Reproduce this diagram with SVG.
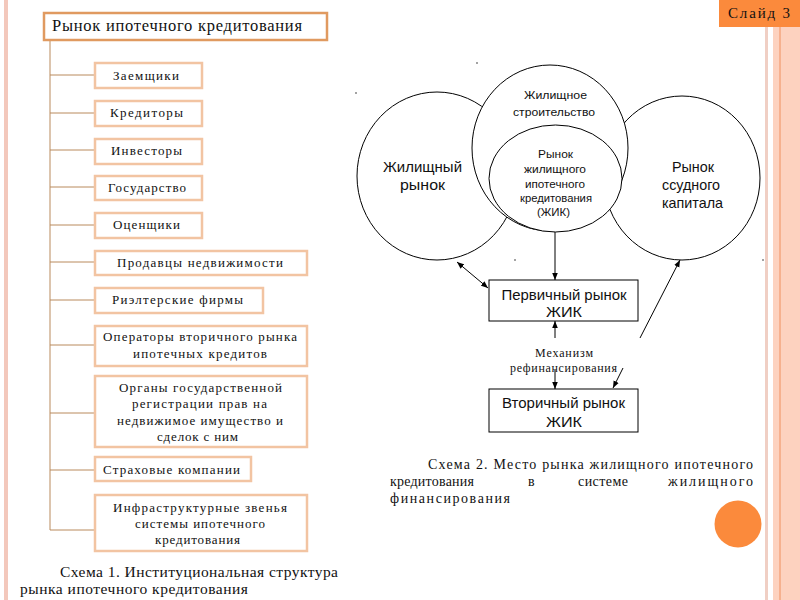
<svg xmlns="http://www.w3.org/2000/svg" width="800" height="600" viewBox="0 0 800 600">
<defs>
<marker id="ah" viewBox="0 0 10 10" refX="10" refY="5" markerWidth="7" markerHeight="7" orient="auto-start-reverse" markerUnits="userSpaceOnUse">
<path d="M0,1 L10,5 L0,9 Z" fill="#000"/>
</marker>
<style>
.box{fill:#fff;stroke:#f2c4a2;stroke-width:2.5}
.tbox{fill:#fff;stroke:#e09a60;stroke-width:2.5}
.br{stroke:#b98a5c;stroke-width:1;fill:none}
.ser{font-family:"Liberation Serif","DejaVu Serif",serif;fill:#111}
.san{font-family:"Liberation Sans",Arial,sans-serif;fill:#111}
.lt{font-size:13px;text-anchor:middle}
.ring{fill:#fff;stroke:#000;stroke-width:1}
.ln{stroke:#000;stroke-width:1;fill:none}
</style>
</defs>
<rect width="800" height="600" fill="#fff"/>
<rect x="4" y="0" width="4" height="600" fill="#f3c8bc"/>
<rect x="765" y="0" width="3" height="600" fill="#f0cfc4"/>
<rect x="773" y="0" width="27" height="600" fill="#fdd2bf"/>
<line x1="780" y1="0" x2="780" y2="600" stroke="#f0905e" stroke-width="1"/>
<g id="slide-label">
<rect x="719" y="0" width="81" height="27" fill="#fb8a3c"/>
<text x="759" y="18" class="ser" font-size="15" text-anchor="middle" textLength="62" lengthAdjust="spacing" fill="#222">Слайд 3</text>
</g>

<g id="connectors-left">
<line class="br" x1="50" y1="40" x2="50" y2="530"/>
<line class="br" x1="50" y1="75" x2="95" y2="75"/>
<line class="br" x1="50" y1="113" x2="95" y2="113"/>
<line class="br" x1="50" y1="150" x2="95" y2="150"/>
<line class="br" x1="50" y1="187" x2="95" y2="187"/>
<line class="br" x1="50" y1="225" x2="95" y2="225"/>
<line class="br" x1="50" y1="262" x2="95" y2="262"/>
<line class="br" x1="50" y1="300" x2="95" y2="300"/>
<line class="br" x1="50" y1="345" x2="95" y2="345"/>
<line class="br" x1="50" y1="413" x2="95" y2="413"/>
<line class="br" x1="50" y1="470" x2="95" y2="470"/>
<line class="br" x1="50" y1="530" x2="95" y2="530"/>
</g>
<g id="root">
<rect class="tbox" x="44" y="13" width="283" height="27"/>
<text class="ser" x="52" y="31" font-size="16.5" textLength="250" lengthAdjust="spacing">Рынок ипотечного кредитования</text>
</g>
<g id="n1"><rect class="box" x="95" y="63" width="107" height="25"/><text class="ser lt" x="146" y="80" textLength="66" lengthAdjust="spacing">Заемщики</text></g>
<g id="n2"><rect class="box" x="95" y="101" width="107" height="25"/><text class="ser lt" x="146.5" y="117" textLength="73" lengthAdjust="spacing">Кредиторы</text></g>
<g id="n3"><rect class="box" x="95" y="139" width="107" height="25"/><text class="ser lt" x="146.5" y="155" textLength="71" lengthAdjust="spacing">Инвесторы</text></g>
<g id="n4"><rect class="box" x="95" y="176" width="107" height="24"/><text class="ser lt" x="147" y="192" textLength="78" lengthAdjust="spacing">Государство</text></g>
<g id="n5"><rect class="box" x="95" y="213" width="107" height="25"/><text class="ser lt" x="146.5" y="229" textLength="67" lengthAdjust="spacing">Оценщики</text></g>
<g id="n6"><rect class="box" x="95" y="251" width="212" height="24"/><text class="ser lt" x="200" y="267" textLength="166" lengthAdjust="spacing">Продавцы недвижимости</text></g>
<g id="n7"><rect class="box" x="95" y="288" width="168" height="25"/><text class="ser lt" x="177.5" y="304" textLength="131" lengthAdjust="spacing">Риэлтерские фирмы</text></g>
<g id="n8"><rect class="box" x="95" y="326" width="212" height="40"/>
<text class="ser lt" x="200" y="341" textLength="194" lengthAdjust="spacing">Операторы вторичного рынка</text>
<text class="ser lt" x="200" y="358" textLength="134" lengthAdjust="spacing">ипотечных кредитов</text></g>
<g id="n9"><rect class="box" x="95" y="376" width="212" height="71"/>
<text class="ser lt" x="200.5" y="392" textLength="163" lengthAdjust="spacing">Органы государственной</text>
<text class="ser lt" x="199.5" y="408" textLength="135" lengthAdjust="spacing">регистрации прав на</text>
<text class="ser lt" x="200" y="425" textLength="166" lengthAdjust="spacing">недвижимое имущество и</text>
<text class="ser lt" x="197.5" y="441" textLength="81" lengthAdjust="spacing">сделок с ним</text></g>
<g id="n10"><rect class="box" x="95" y="457" width="156" height="24"/><text class="ser lt" x="171.5" y="474" textLength="137" lengthAdjust="spacing">Страховые компании</text></g>
<g id="n11"><rect class="box" x="95" y="495" width="212" height="56"/>
<text class="ser lt" x="200" y="512" textLength="174" lengthAdjust="spacing">Инфраструктурные звенья</text>
<text class="ser lt" x="200" y="528" textLength="130" lengthAdjust="spacing">системы ипотечного</text>
<text class="ser lt" x="197.5" y="544" textLength="85" lengthAdjust="spacing">кредитования</text></g>
<g id="caption1">
<text class="ser" x="60" y="577" font-size="15.5" textLength="278" lengthAdjust="spacing">Схема 1. Институциональная структура</text>
<text class="ser" x="20" y="594" font-size="15.5" textLength="228" lengthAdjust="spacing">рынка ипотечного кредитования</text>
</g>

<g id="housing-market"><ellipse class="ring" cx="437" cy="176" rx="80" ry="84"/>
<text class="san" x="422.5" y="172" font-size="14.5" text-anchor="middle" textLength="79" lengthAdjust="spacingAndGlyphs">Жилищный</text>
<text class="san" x="422.5" y="190" font-size="14.5" text-anchor="middle" textLength="45" lengthAdjust="spacingAndGlyphs">рынок</text></g>
<g id="loan-capital"><ellipse class="ring" cx="682" cy="178" rx="78" ry="82"/>
<text class="san" x="693" y="172" font-size="14.5" text-anchor="middle" textLength="42" lengthAdjust="spacingAndGlyphs">Рынок</text>
<text class="san" x="691" y="190" font-size="14.5" text-anchor="middle" textLength="58" lengthAdjust="spacingAndGlyphs">ссудного</text>
<text class="san" x="692.5" y="208" font-size="14.5" text-anchor="middle" textLength="61" lengthAdjust="spacingAndGlyphs">капитала</text></g>
<g id="construction"><ellipse class="ring" cx="550" cy="148" rx="78" ry="83"/>
<text class="san" x="555.5" y="99" font-size="11" text-anchor="middle" textLength="63" lengthAdjust="spacingAndGlyphs">Жилищное</text>
<text class="san" x="554" y="116" font-size="11" text-anchor="middle" textLength="82" lengthAdjust="spacingAndGlyphs">строительство</text></g>
<g id="zhik"><ellipse class="ring" cx="555.5" cy="178.5" rx="66.5" ry="53.5"/>
<text class="san" x="555.5" y="158" font-size="10.5" text-anchor="middle" textLength="35" lengthAdjust="spacingAndGlyphs">Рынок</text>
<text class="san" x="555" y="173" font-size="10.5" text-anchor="middle" textLength="62" lengthAdjust="spacingAndGlyphs">жилищного</text>
<text class="san" x="555" y="188" font-size="10.5" text-anchor="middle" textLength="60" lengthAdjust="spacingAndGlyphs">ипотечного</text>
<text class="san" x="556" y="202" font-size="10.5" text-anchor="middle" textLength="72" lengthAdjust="spacingAndGlyphs">кредитования</text>
<text class="san" x="553.5" y="216" font-size="10.5" text-anchor="middle" textLength="33" lengthAdjust="spacingAndGlyphs">(ЖИК)</text></g>
<g id="primary"><rect x="489" y="280" width="149" height="41" fill="#fff" stroke="#000" stroke-width="1"/>
<text class="san" x="564" y="300" font-size="14.5" text-anchor="middle" textLength="125" lengthAdjust="spacingAndGlyphs">Первичный рынок</text>
<text class="san" x="564" y="317" font-size="14.5" text-anchor="middle" textLength="36" lengthAdjust="spacingAndGlyphs">ЖИК</text></g>
<g id="secondary"><rect x="489" y="389" width="149" height="43" fill="#fff" stroke="#000" stroke-width="1"/>
<text class="san" x="563.5" y="408" font-size="14.5" text-anchor="middle" textLength="123" lengthAdjust="spacingAndGlyphs">Вторичный рынок</text>
<text class="san" x="564" y="427" font-size="14.5" text-anchor="middle" textLength="36" lengthAdjust="spacingAndGlyphs">ЖИК</text></g>
<g id="mechanism">
<text class="ser" x="564" y="357" font-size="12" text-anchor="middle" textLength="58" lengthAdjust="spacing">Механизм</text>
<text class="ser" x="563.5" y="372" font-size="12" text-anchor="middle" textLength="107" lengthAdjust="spacing">рефинансирования</text>
</g>
<g id="connectors-right">
<line class="ln" x1="555" y1="232" x2="555" y2="280" marker-end="url(#ah)"/>
<line class="ln" x1="457" y1="262" x2="488" y2="288" marker-start="url(#ah)" marker-end="url(#ah)"/>
<line class="ln" x1="555" y1="338" x2="555" y2="321" marker-end="url(#ah)"/>
<line class="ln" x1="555" y1="370" x2="555" y2="389" marker-end="url(#ah)"/>
<line class="ln" x1="623" y1="368" x2="613" y2="388" marker-end="url(#ah)"/>
<line class="ln" x1="640" y1="338" x2="680" y2="260" marker-end="url(#ah)"/>
</g>
<g id="caption2" class="ser" font-size="14">
<text x="428" y="469" textLength="325" lengthAdjust="spacing">Схема 2. Место рынка жилищного ипотечного</text>
<text x="390" y="486" textLength="84" lengthAdjust="spacing">кредитования</text>
<text x="528" y="486">в</text>
<text x="578" y="486" textLength="50" lengthAdjust="spacing">системе</text>
<text x="668" y="486" textLength="85" lengthAdjust="spacing">жилищного</text>
<text x="390" y="503" textLength="120" lengthAdjust="spacing">финансирования</text>
</g>
<circle cx="738" cy="524" r="23.5" fill="#fb8a3c"/>
<g fill="#000">
<circle cx="356" cy="93" r="0.7"/><circle cx="477" cy="63" r="0.7"/><circle cx="515" cy="260" r="0.7"/><circle cx="763" cy="260" r="0.7"/>
</g>
</svg>
